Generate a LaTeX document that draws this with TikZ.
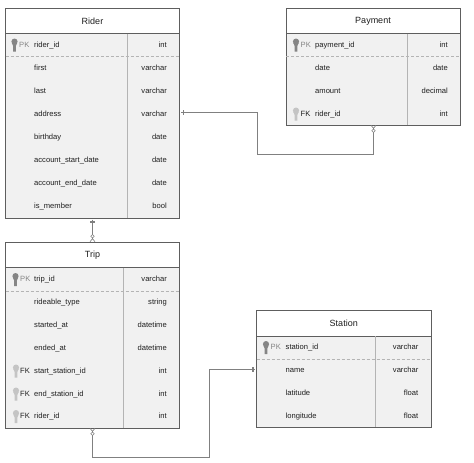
\documentclass[tikz,border=0pt]{standalone}
\usepackage{fontspec}
\setmainfont{Liberation Sans}
\usepackage{xcolor}
\usetikzlibrary{arrows.meta,positioning,calc}
\definecolor{ink}     {HTML}{1F1F1F}
\definecolor{frame}   {HTML}{5E5E5E}
\definecolor{rowfill} {HTML}{F1F1F1}
\definecolor{sepgray} {HTML}{B4B4B4}
\definecolor{linkgray}{HTML}{808080}
\definecolor{keydark} {HTML}{858585}
\definecolor{keylight}{HTML}{C4C4C4}
\tikzset{
  entitybox/.style ={draw=frame, fill=white, line width=0.9pt, outer sep=0pt, inner sep=0pt},
  bodybox/.style   ={draw=frame, fill=rowfill, line width=0.9pt, outer sep=0pt, inner sep=0pt},
  titlelabel/.style={font=\fontsize{9}{10}\selectfont, text=ink, inner sep=0pt},
  fieldlabel/.style={anchor=west, font=\fontsize{7.6}{9}\selectfont, text=ink, inner sep=0pt,
                     text height=5.5pt, text depth=1.5pt},
  typelabel/.style ={anchor=east, font=\fontsize{7.6}{9}\selectfont, text=ink, inner sep=0pt,
                     text height=5.5pt, text depth=1.5pt},
  pklabel/.style   ={fieldlabel, text=keydark},
  fklabel/.style   ={fieldlabel},
  colsep/.style    ={draw=sepgray, line width=0.7pt},
  rowsep/.style    ={draw=sepgray, line width=0.7pt, densely dashed},
  relink/.style    ={draw=linkgray, line width=0.9pt,
                     {Bar[width=0pt,line width=0.1pt,sep=1.5pt]Bar[width=4.5pt,line width=0.7pt,sep=1.6pt]Bar[width=4.5pt,line width=0.7pt]}-{Circle[open,length=4pt,width=4pt,fill=white,sep=0pt,line width=0.6pt]Straight Barb[reversed,length=3pt,width=5pt,line width=0.6pt]}},
  pics/keybulb/.style={code={
    \fill[#1] (0,-3.4) circle (3.1);
    \fill[#1] (-2.7,-2) -- (2.7,-2) -- (1.3,1) -- (1.3,6.5) -- (-1.3,6.5) -- (-1.3,1) -- cycle;
  }},
}
\begin{document}
\begin{tikzpicture}[x=1pt,y=-1pt]
    \useasboundingbox (0,0) rectangle (474,463);

    % Rider
    \node[entitybox,minimum width=174pt,minimum height=210pt] (rider)     at (92.5,113) {};
    \node[bodybox,minimum width=174pt,minimum height=184.5pt] (riderbody) at (92.5,125.75) {};
    \node[titlelabel] (ridertitle) at (92.5,21) {Rider};
    \draw[colsep] (127,33.5) -- (127,218);
    \draw[rowsep] (5.5,56) -- (179.5,56);
    \pic at (14.5,45) {keybulb=keydark};
    \node[pklabel]    (riderpk)   at (19,45)  {PK};
    \node[fieldlabel] (rid)       at (34,45)  {rider\_id};
    \node[typelabel]  (ridt)      at (167,45) {int};
    \node[fieldlabel] (rfirst)    at (34,68)  {first};
    \node[typelabel]  (rfirstt)   at (167,68) {varchar};
    \node[fieldlabel] (rlast)     at (34,91)  {last};
    \node[typelabel]  (rlastt)    at (167,91) {varchar};
    \node[fieldlabel] (raddr)     at (34,114) {address};
    \node[typelabel]  (raddrt)    at (167,114) {varchar};
    \node[fieldlabel] (rbirth)    at (34,137) {birthday};
    \node[typelabel]  (rbirtht)   at (167,137) {date};
    \node[fieldlabel] (rstart)    at (34,160) {account\_start\_date};
    \node[typelabel]  (rstartt)   at (167,160) {date};
    \node[fieldlabel] (rend)      at (34,183) {account\_end\_date};
    \node[typelabel]  (rendt)     at (167,183) {date};
    \node[fieldlabel] (rmember)   at (34,206) {is\_member};
    \node[typelabel]  (rmembert)  at (167,206) {bool};

    % Payment
    \node[entitybox,minimum width=174pt,minimum height=117pt]  (payment)     at (373,66.5) {};
    \node[bodybox,minimum width=174pt,minimum height=91.5pt]   (paymentbody) at (373,79.25) {};
    \node[titlelabel] (paytitle) at (373,21) {Payment};
    \draw[colsep] (407,33.5) -- (407,125);
    \draw[rowsep] (286,56) -- (460,56);
    \pic at (296,45) {keybulb=keydark};
    \node[pklabel]    (paypk)    at (300.5,45) {PK};
    \node[fieldlabel] (pid)      at (315,45)  {payment\_id};
    \node[typelabel]  (pidt)     at (448,45)  {int};
    \node[fieldlabel] (pdate)    at (315,68)  {date};
    \node[typelabel]  (pdatet)   at (448,68)  {date};
    \node[fieldlabel] (pamount)  at (315,91)  {amount};
    \node[typelabel]  (pamountt) at (448,91)  {decimal};
    \pic at (296,114) {keybulb=keylight};
    \node[fklabel]    (payfk)    at (300.5,114) {FK};
    \node[fieldlabel] (prider)   at (315,114) {rider\_id};
    \node[typelabel]  (pridert)  at (448,114) {int};

    % Trip
    \node[entitybox,minimum width=174pt,minimum height=186pt]   (trip)     at (92.5,335) {};
    \node[bodybox,minimum width=174pt,minimum height=160.5pt]   (tripbody) at (92.5,347.75) {};
    \node[titlelabel] (triptitle) at (92.5,255) {Trip};
    \draw[colsep] (123,267.5) -- (123,428);
    \draw[rowsep] (5.5,291) -- (179.5,291);
    \pic at (15.5,279.5) {keybulb=keydark};
    \node[pklabel]    (trippk)  at (20,279.5) {PK};
    \node[fieldlabel] (tid)     at (34,279.5) {trip\_id};
    \node[typelabel]  (tidt)    at (167,279.5) {varchar};
    \node[fieldlabel] (ttype)   at (34,302.5) {rideable\_type};
    \node[typelabel]  (ttypet)  at (167,302.5) {string};
    \node[fieldlabel] (tstart)  at (34,325.5) {started\_at};
    \node[typelabel]  (tstartt) at (167,325.5) {datetime};
    \node[fieldlabel] (tend)    at (34,348) {ended\_at};
    \node[typelabel]  (tendt)   at (167,348) {datetime};
    \pic at (16,371) {keybulb=keylight};
    \node[fklabel]    (tfka)    at (20,371) {FK};
    \node[fieldlabel] (tsid)    at (34,371) {start\_station\_id};
    \node[typelabel]  (tsidt)   at (167,371) {int};
    \pic at (16,394) {keybulb=keylight};
    \node[fklabel]    (tfkb)    at (20,394) {FK};
    \node[fieldlabel] (teid)    at (34,394) {end\_station\_id};
    \node[typelabel]  (teidt)   at (167,394) {int};
    \pic at (16,416.5) {keybulb=keylight};
    \node[fklabel]    (tfkc)    at (20,416.5) {FK};
    \node[fieldlabel] (trid)    at (34,416.5) {rider\_id};
    \node[typelabel]  (tridt)   at (167,416.5) {int};

    % Station
    \node[entitybox,minimum width=174.5pt,minimum height=117pt] (station)     at (343.75,368.5) {};
    \node[bodybox,minimum width=174.5pt,minimum height=91pt]    (stationbody) at (343.75,381.5) {};
    \node[titlelabel] (stationtitle) at (343.75,323.5) {Station};
    \draw[colsep] (375.5,336) -- (375.5,427);
    \draw[rowsep] (256.5,359.5) -- (431,359.5);
    \pic at (266,347.5) {keybulb=keydark};
    \node[pklabel]    (stationpk) at (270.5,347.5) {PK};
    \node[fieldlabel] (sid)       at (285.5,347.5) {station\_id};
    \node[typelabel]  (sidt)      at (418.5,347.5) {varchar};
    \node[fieldlabel] (sname)     at (285.5,370.5) {name};
    \node[typelabel]  (snamet)    at (418.5,370.5) {varchar};
    \node[fieldlabel] (slat)      at (285.5,393.5) {latitude};
    \node[typelabel]  (slatt)     at (418.5,393.5) {float};
    \node[fieldlabel] (slon)      at (285.5,416.5) {longitude};
    \node[typelabel]  (slont)     at (418.5,416.5) {float};

    % relationships
    \coordinate (riderport) at (179.5,112.5);
    \coordinate (payport)   at (373.5,125);
    \coordinate (stationport) at (256.5,369.5);
    \draw[relink] (riderport) -- (257.5,112.5) -- (257.5,154.5) -- (373.5,154.5) -- (payport);
    \draw[relink] (rider.south) -- (trip.north);
    \draw[relink] (stationport) -- (209,369.5) -- (209,457) -- (92.5,457) -- (trip.south);
\end{tikzpicture}
\end{document}
